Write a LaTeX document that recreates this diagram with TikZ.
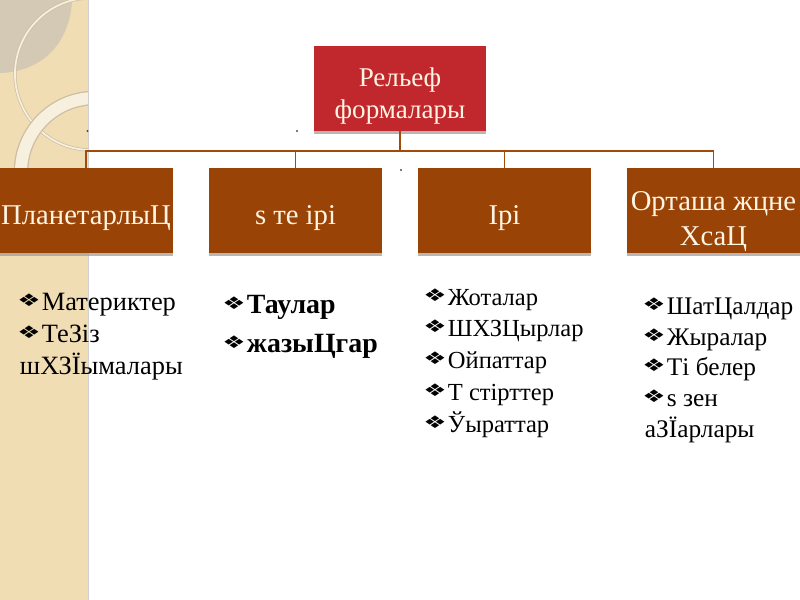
\documentclass[tikz,border=0pt]{standalone}
\usepackage{fontspec}
\setmainfont{Liberation Serif}
\newfontfamily\symfont{DejaVu Sans}
\usetikzlibrary{positioning,shadows}
\definecolor{rootred}{HTML}{C0282E}
\definecolor{boxbrown}{HTML}{9A4306}
\definecolor{linkbrown}{HTML}{A24A0C}
\definecolor{boxtext}{HTML}{FFF4E2}
\definecolor{paper}{HTML}{F1DDB4}
\definecolor{leafgray}{HTML}{D3C9B4}
\definecolor{ringpale}{HTML}{F8F0DE}
\definecolor{ringedge}{HTML}{CDBFA3}
\newcommand{\bul}{\raisebox{3pt}{\scalebox{1.5}[1]{\symfont\fontsize{13}{13}\selectfont ❖}}\hspace{1pt}}
\newcommand{\topgap}[1]{\rule{0pt}{#1}}
\tikzset{
  rootbox/.style={fill=rootred,text=boxtext,minimum width=129pt,minimum height=63.75pt,
    inner sep=0pt,align=center,font=\fontsize{20.3}{24}\selectfont,
    drop shadow={shadow xshift=0pt,shadow yshift=-2.2pt,fill=black!40,opacity=.7}},
  kindbox/.style={rootbox,fill=boxbrown,minimum width=129.75pt,font=\fontsize{21.5}{26}\selectfont},
  link/.style={draw=linkbrown,line width=1.3pt},
  itemlist/.style={anchor=base west,align=left,inner sep=0pt,font=\fontsize{19.8}{24}\selectfont},
  speck/.style={fill=black!70},
}

\begin{document}
\begin{tikzpicture}[x=0.75pt,y=-0.75pt]
  \useasboundingbox (0,0) rectangle (800,600);
  % left paper strip
  \begin{scope}
    \clip (0,0) rectangle (88,600);
    \fill[paper] (0,0) rectangle (88,600);
    \fill[leafgray] (0,0) -- (72,0) .. controls (70,45) and (40,72) .. (0,73) -- cycle;
    \draw[ringedge,line width=2.4pt] (91,74) circle[radius=76];
    \draw[ringpale,line width=1.3pt] (91,74) circle[radius=76];
    \draw[ringedge,line width=11pt] (95,172) circle[radius=74];
    \draw[ringpale,line width=9pt] (95,172) circle[radius=74];
  \end{scope}
  \draw[black!18,line width=1pt] (88.5,0) -- (88.5,600);

  \node[rootbox] (root) at (400,88.5) {\topgap{25pt}Рельеф\\формалары};
  \node[kindbox] (k1) at (86,210.5)    {\topgap{25pt}ПланетарлыЦ};
  \node[kindbox] (k2) at (295.5,210.5) {\topgap{25pt}s те ірі};
  \node[kindbox] (k3) at (504.5,210.5) {\topgap{25pt}Ірі};
  \node[kindbox] (k4) at (713.5,210.5) {\topgap{31pt}Орташа жцне\\ХсаЦ};

  \coordinate (bus) at (400,151);
  \draw[link] (root.south) -- (bus);
  \foreach \k in {k1,k2,k3,k4} \draw[link] (\k.north) |- (bus);

  \fill[speck] (87.5,131) circle (0.9pt);
  \fill[speck] (297,131) circle (0.9pt);
  \fill[speck] (401,170) circle (0.9pt);

  % lists under the boxes
  \node[itemlist] (l1) at (17,374)
    {\bul Материктер\\\bul ТеЗіз\\\hspace*{2pt}шХЗЇымалары};
  \node[itemlist,font=\bfseries\fontsize{20.9}{29}\selectfont] (l2) at (222,352)
    {\bul Таулар\\\bul жазыЦгар};
  \node[itemlist,font=\fontsize{18.4}{23.8}\selectfont] (l3) at (423,432)
    {\bul Жоталар\\\bul ШХЗЦырлар\\\bul Ойпаттар\\\bul Т стірттер\\\bul Ўыраттар};
  \node[itemlist,font=\fontsize{19}{22.9}\selectfont] (l4) at (642,437)
    {\bul ШатЦалдар\\\bul Жыралар\\\bul Ті белер\\\bul s зен\\\hspace*{2pt}аЗЇарлары};
\end{tikzpicture}
\end{document}
